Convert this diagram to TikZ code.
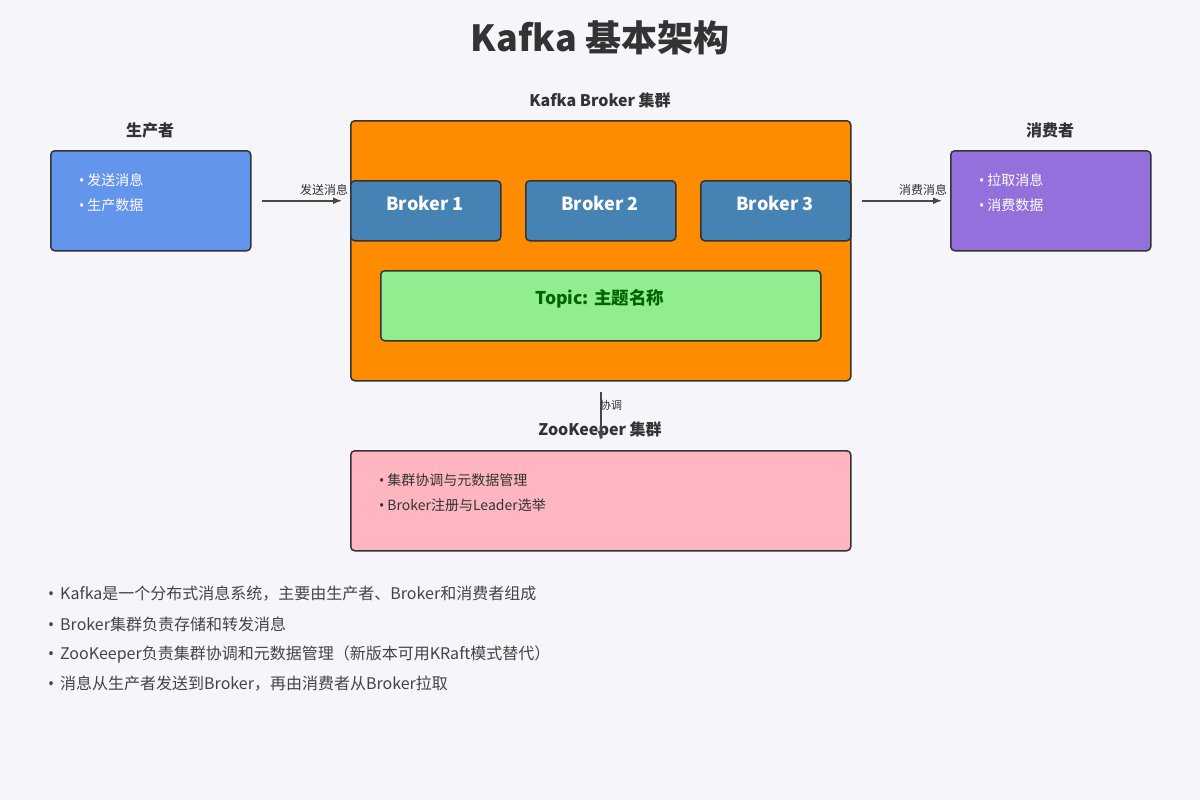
\documentclass[tikz,border=0pt]{standalone}
\usepackage{fontspec}
\setmainfont{Noto Sans CJK SC}
\newfontfamily\bulfont{Noto Sans}
\newcommand{\bulmark}{{\bulfont •}}
\usetikzlibrary{arrows.meta}
\definecolor{bg}{HTML}{F5F5FA}
\definecolor{edge}{HTML}{333333}
\definecolor{prod}{HTML}{6495ED}
\definecolor{cons}{HTML}{9370DB}
\definecolor{clus}{HTML}{FF8C00}
\definecolor{brok}{HTML}{4682B4}
\definecolor{topic}{HTML}{90EE90}
\definecolor{topictxt}{HTML}{006400}
\definecolor{zk}{HTML}{FFB6C1}
\definecolor{txt}{HTML}{333333}
\definecolor{note}{HTML}{444444}
\tikzset{
  box/.style={draw=edge, line width=1.5pt, rounded corners=4pt, inner sep=0pt, anchor=north west},
  head/.style={font=\bfseries\fontsize{16}{19}\selectfont, text=txt},
  bul/.style={anchor=west, font=\fontsize{14}{16}\selectfont, inner sep=0pt},
  brokertxt/.style={font=\bfseries\fontsize{18}{21}\selectfont, text=white},
  conn/.style={draw=edge!90, line width=1.5pt, -{Latex[length=9pt,width=7pt]}},
  lbl/.style={font=\fontsize{12}{14}\selectfont, text=txt, inner sep=0pt},
  notetxt/.style={anchor=west, font=\fontsize{16}{19}\selectfont, text=note, inner sep=0pt}
}
\begin{document}
\begin{tikzpicture}[x=1pt,y=-1pt]
\fill[bg] (0,0) rectangle (1200,800);
\useasboundingbox (0,0) rectangle (1200,800);

\node[font=\bfseries\fontsize{36}{42}\selectfont, text=txt] (title) at (600,38) {Kafka 基本架构};

% producer
\node[head] (prodlbl) at (150,130) {生产者};
\node[box, fill=prod, minimum width=200pt, minimum height=100pt] (prod) at (50,150) {};
\node[bul, text=white] (p1) at (79,180) {\bulmark\hspace{3pt}发送消息};
\node[bul, text=white] (p2) at (79,205) {\bulmark\hspace{3pt}生产数据};

% cluster
\node[head] (cluslbl) at (600,100) {Kafka Broker 集群};
\node[box, fill=clus, minimum width=500pt, minimum height=260pt] (clus) at (350,120) {};
\node[box, fill=brok, minimum width=150pt, minimum height=60pt] (b1) at (350,180) {};
\node[box, fill=brok, minimum width=150pt, minimum height=60pt] (b2) at (525,180) {};
\node[box, fill=brok, minimum width=150pt, minimum height=60pt] (b3) at (700,180) {};
\node[brokertxt] (b1t) at (425,203) {Broker 1};
\node[brokertxt] (b2t) at (600,203) {Broker 2};
\node[brokertxt] (b3t) at (775,203) {Broker 3};
\node[box, fill=topic, minimum width=440pt, minimum height=70pt] (topic) at (380,270) {};
\node[font=\bfseries\fontsize{17.5}{20}\selectfont, text=topictxt] (topict) at (600,299) {Topic: 主题名称};

% consumer
\node[head] (conslbl) at (1050,130) {消费者};
\node[box, fill=cons, minimum width=200pt, minimum height=100pt] (cons) at (950,150) {};
\node[bul, text=white] (c1) at (979,180) {\bulmark\hspace{3pt}拉取消息};
\node[bul, text=white] (c2) at (979,205) {\bulmark\hspace{3pt}消费数据};

% zookeeper
\node[head] (zklbl) at (600,430) {ZooKeeper 集群};
\node[box, fill=zk, minimum width=500pt, minimum height=100pt] (zk) at (350,450) {};
\node[bul, text=txt] (z1) at (379,480) {\bulmark\hspace{3pt}集群协调与元数据管理};
\node[bul, text=txt] (z2) at (379,505) {\bulmark\hspace{3pt}Broker注册与Leader选举};

% connectors
\coordinate (pe) at (prod.east);
\draw[conn, shorten <=10pt, shorten >=8pt] (pe) -- (pe -| clus.west);
\node[lbl] (sendlbl) at (324,190) {发送消息};
\coordinate (ce) at (clus.east |- prod.east);
\draw[conn, shorten <=10pt, shorten >=8pt] (ce) -- (ce -| cons.west);
\node[lbl] (conslbl2) at (923,190) {消费消息};
\draw[conn, shorten <=10pt, shorten >=10pt] (clus.south) -- (zk.north);
\node[lbl, anchor=west, font=\fontsize{11}{13}\selectfont] (coord) at (600,405) {协调};

% notes
\node[notetxt] (n1) at (48,594) {\bulmark\hspace{6pt}Kafka是一个分布式消息系统，主要由生产者、Broker和消费者组成};
\node[notetxt] (n2) at (48,624) {\bulmark\hspace{6pt}Broker集群负责存储和转发消息};
\node[notetxt] (n3) at (48,654) {\bulmark\hspace{6pt}ZooKeeper负责集群协调和元数据管理（新版本可用KRaft模式替代）};
\node[notetxt] (n4) at (48,684) {\bulmark\hspace{6pt}消息从生产者发送到Broker，再由消费者从Broker拉取};
\end{tikzpicture}
\end{document}
